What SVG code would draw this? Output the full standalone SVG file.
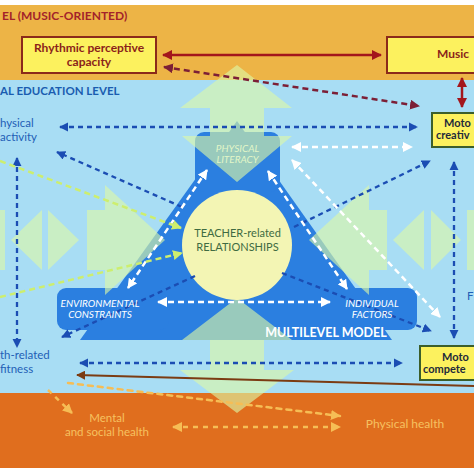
<svg xmlns="http://www.w3.org/2000/svg" width="474" height="474" viewBox="0 0 474 474">
<style>
.lbl{font-family:Lato,"Open Sans","Liberation Sans",sans-serif}
.box{fill:#FCF15E;stroke-width:2}
.bx{font-weight:bold;font-size:12px;text-anchor:middle}
.blue{fill:#1F5FB6;font-size:11.5px}
.tri{fill:#FFFFFF;font-style:italic;font-size:10px;text-anchor:middle}
.dB{fill:none;stroke:#1B4DB3;stroke-width:2.3;stroke-dasharray:5 4}
.dW{fill:none;stroke:#FFFFFF;stroke-width:2.5;stroke-dasharray:6 4}
.dL{fill:none;stroke:#CDEE6E;stroke-width:2.5;stroke-dasharray:6 4}
.dM{fill:none;stroke:#7C1F36;stroke-width:2.5;stroke-dasharray:6 4}
.sR{fill:none;stroke:#A3161C;stroke-width:2.5}
.sN{fill:none;stroke:#7B3B12;stroke-width:2}
.dO{fill:none;stroke:#F6BD55;stroke-width:2.5;stroke-dasharray:5 5}
.pale{fill:#DDF8A6;fill-opacity:0.62}
</style>
<defs>
<marker id="aB" viewBox="0 0 10 10" refX="9" refY="5" markerWidth="4" markerHeight="4" orient="auto-start-reverse"><path d="M0,0 L10,5 L0,10 z" fill="#1B4DB3"/></marker>
<marker id="aW" viewBox="0 0 10 10" refX="9" refY="5" markerWidth="4" markerHeight="4" orient="auto-start-reverse"><path d="M0,0 L10,5 L0,10 z" fill="#FFFFFF"/></marker>
<marker id="aL" viewBox="0 0 10 10" refX="9" refY="5" markerWidth="4" markerHeight="4" orient="auto-start-reverse"><path d="M0,0 L10,5 L0,10 z" fill="#CDEE6E"/></marker>
<marker id="aM" viewBox="0 0 10 10" refX="9" refY="5" markerWidth="4" markerHeight="4" orient="auto-start-reverse"><path d="M0,0 L10,5 L0,10 z" fill="#7C1F36"/></marker>
<marker id="aR" viewBox="0 0 10 10" refX="9" refY="5" markerWidth="4" markerHeight="4" orient="auto-start-reverse"><path d="M0,0 L10,5 L0,10 z" fill="#A3161C"/></marker>
<marker id="aN" viewBox="0 0 10 10" refX="9" refY="5" markerWidth="4.5" markerHeight="4.5" orient="auto-start-reverse"><path d="M0,0 L10,5 L0,10 z" fill="#7B3B12"/></marker>
<marker id="aO" viewBox="0 0 10 10" refX="9" refY="5" markerWidth="4" markerHeight="4" orient="auto-start-reverse"><path d="M0,0 L10,5 L0,10 z" fill="#F6BD55"/></marker>
</defs>

<g id="background">
<rect x="0" y="0" width="474" height="474" fill="#FFFFFF"/>
<rect x="0" y="5" width="474" height="75" fill="#EDB446"/>
<rect x="0" y="80" width="474" height="313" fill="#A8DDF4"/>
<rect x="0" y="393" width="474" height="75" fill="#E06E1E"/>
</g>

<g id="level-labels" class="lbl">
<text x="2" y="20" font-size="12" font-weight="bold" fill="#A3232A">EL (MUSIC-ORIENTED)</text>
<text x="0" y="95" font-size="11.5" font-weight="bold" fill="#1A5CB0">AL EDUCATION LEVEL</text>
</g>

<g id="multilevel-model">
<polygon points="237,121 80,340 392,340" fill="#2B7FE0"/>
<rect x="195" y="132" width="85" height="60" rx="9" fill="#2B7FE0"/>
<rect x="57" y="288" width="112" height="42" rx="9" fill="#2B7FE0"/>
<rect x="328" y="288" width="89" height="42" rx="9" fill="#2B7FE0"/>
<text class="lbl tri" x="237.5" y="152" fill-opacity="0.9">PHYSICAL</text>
<text class="lbl tri" x="237.5" y="163" fill-opacity="0.9">LITERACY</text>
</g>

<g id="pale-arrows">
<polygon class="pale" points="237,65 292,108 264,108 264,136 292,136 237,182 182,136 210,136 210,108 180,108"/>
<polygon class="pale" points="237,298 292,340 264,340 264,370 294,370 237,413 180,370 210,370 210,340 182,340"/>
<polygon class="pale" points="105,185 165,240 105,295"/>
<rect class="pale" x="87" y="210" width="18" height="60"/>
<polygon class="pale" points="48,210 79,240 48,270"/>
<polygon class="pale" points="11,240 42,210 42,270"/>
<rect class="pale" x="0" y="210" width="5" height="60"/>
<polygon class="pale" points="369,185 309,240 369,295"/>
<rect class="pale" x="369" y="210" width="18" height="60"/>
<polygon class="pale" points="424,210 393,240 424,270"/>
<polygon class="pale" points="431,210 461,240 431,270"/>
<rect class="pale" x="467" y="210" width="7" height="60"/>
</g>

<g id="teacher-relationships">
<circle cx="237" cy="245" r="55" fill="#F3F5B4"/>
<text class="lbl" x="237.5" y="237" font-size="11" text-anchor="middle" fill="#3F6B42">TEACHER-related</text>
<text class="lbl" x="237.5" y="251" font-size="11" text-anchor="middle" fill="#3F6B42">RELATIONSHIPS</text>
</g>

<g id="connectors">
<path class="sR" d="M163,55 H381" marker-start="url(#aR)" marker-end="url(#aR)"/>
<path class="sR" d="M462,78 V107" marker-start="url(#aR)" marker-end="url(#aR)"/>
<path class="dM" d="M164,67 L419,106" marker-start="url(#aM)" marker-end="url(#aM)"/>
<path class="dB" d="M60,127 H417" marker-start="url(#aB)" marker-end="url(#aB)"/>
<path class="dB" d="M182,207 L57,152" marker-end="url(#aB)"/>
<path class="dB" d="M294,227 L430,161" marker-end="url(#aB)"/>
<path class="dB" d="M17,158 V347" marker-start="url(#aB)" marker-end="url(#aB)"/>
<path class="dB" d="M454,162 V338" marker-start="url(#aB)" marker-end="url(#aB)"/>
<path class="dB" d="M195,276 L62,337" marker-end="url(#aB)"/>
<path class="dB" d="M282,273 L431,331" marker-end="url(#aB)"/>
<path class="dB" d="M80,363 H402" marker-start="url(#aB)" marker-end="url(#aB)"/>
<path class="dW" d="M292,147 H412" marker-start="url(#aW)" marker-end="url(#aW)"/>
<path class="dW" d="M292,160 L440,317" marker-start="url(#aW)" marker-end="url(#aW)"/>
<path class="dW" d="M207,170 L128,288" marker-start="url(#aW)" marker-end="url(#aW)"/>
<path class="dW" d="M268,171 L347,289" marker-start="url(#aW)" marker-end="url(#aW)"/>
<path class="dW" d="M158,302 H330" marker-start="url(#aW)" marker-end="url(#aW)"/>
<path class="dL" d="M0,161 L181,228" marker-end="url(#aL)"/>
<path class="dL" d="M0,297 L182,253" marker-end="url(#aL)"/>
<path class="sN" d="M474,386 L77,375" marker-end="url(#aN)"/>
<path class="dO" d="M68,383 L340,416" stroke-linecap="round" marker-end="url(#aO)"/>
<path class="dO" d="M173,427 H340" marker-start="url(#aO)" marker-end="url(#aO)"/>
<path class="dO" d="M48,390 L72,413" marker-end="url(#aO)"/>
</g>

<g id="rhythmic-perceptive-capacity">
<rect class="box" x="22" y="37" width="134" height="36" stroke="#8B2A1A"/>
<text class="lbl bx" x="89" y="52" fill="#8B1F1A">Rhythmic perceptive</text>
<text class="lbl bx" x="89" y="66" fill="#8B1F1A">capacity</text>
</g>

<g id="music">
<rect class="box" x="387" y="37" width="90" height="36" stroke="#8B2A1A"/>
<text class="lbl" x="437" y="58" font-size="12" font-weight="bold" fill="#8B1F1A">Music</text>
</g>

<g id="motor-creativity">
<rect class="box" x="432" y="113" width="45" height="34" stroke="#3B5E2B"/>
<text class="lbl" x="444" y="127" font-size="11" font-weight="bold" fill="#1E2A3A">Moto</text>
<text class="lbl" x="436" y="139" font-size="11" font-weight="bold" fill="#1E2A3A">creativ</text>
</g>

<g id="motor-competence">
<rect class="box" x="420" y="346" width="57" height="34" stroke="#3B5E2B"/>
<text class="lbl" x="442" y="361" font-size="11" font-weight="bold" fill="#1E2A3A">Moto</text>
<text class="lbl" x="423" y="373" font-size="11" font-weight="bold" fill="#1E2A3A">compete</text>
</g>

<g id="physical-activity" class="lbl blue">
<text x="0" y="127">hysical</text>
<text x="0" y="141">activity</text>
</g>

<g id="health-related-fitness" class="lbl blue">
<text x="0" y="359">th-related</text>
<text x="0" y="373">fitness</text>
</g>

<g id="right-partial" class="lbl blue">
<text x="467" y="300">F</text>
</g>

<g id="environmental-constraints" class="lbl tri">
<text x="100" y="307">ENVIRONMENTAL</text>
<text x="100" y="318">CONSTRAINTS</text>
</g>

<g id="individual-factors" class="lbl tri">
<text x="372" y="307">INDIVIDUAL</text>
<text x="372" y="318">FACTORS</text>
</g>

<g id="multilevel-label">
<text class="lbl" x="326" y="337" font-size="12.5" font-weight="bold" fill="#FFFFFF" text-anchor="middle">MULTILEVEL MODEL</text>
</g>

<g id="mental-social-health" class="lbl">
<text x="107" y="422" font-size="11.5" fill="#F6C160" text-anchor="middle">Mental</text>
<text x="107" y="436" font-size="11.5" fill="#F6C160" text-anchor="middle">and social health</text>
</g>

<g id="physical-health" class="lbl">
<text x="405" y="428" font-size="12" fill="#F6C160" text-anchor="middle">Physical health</text>
</g>
</svg>
